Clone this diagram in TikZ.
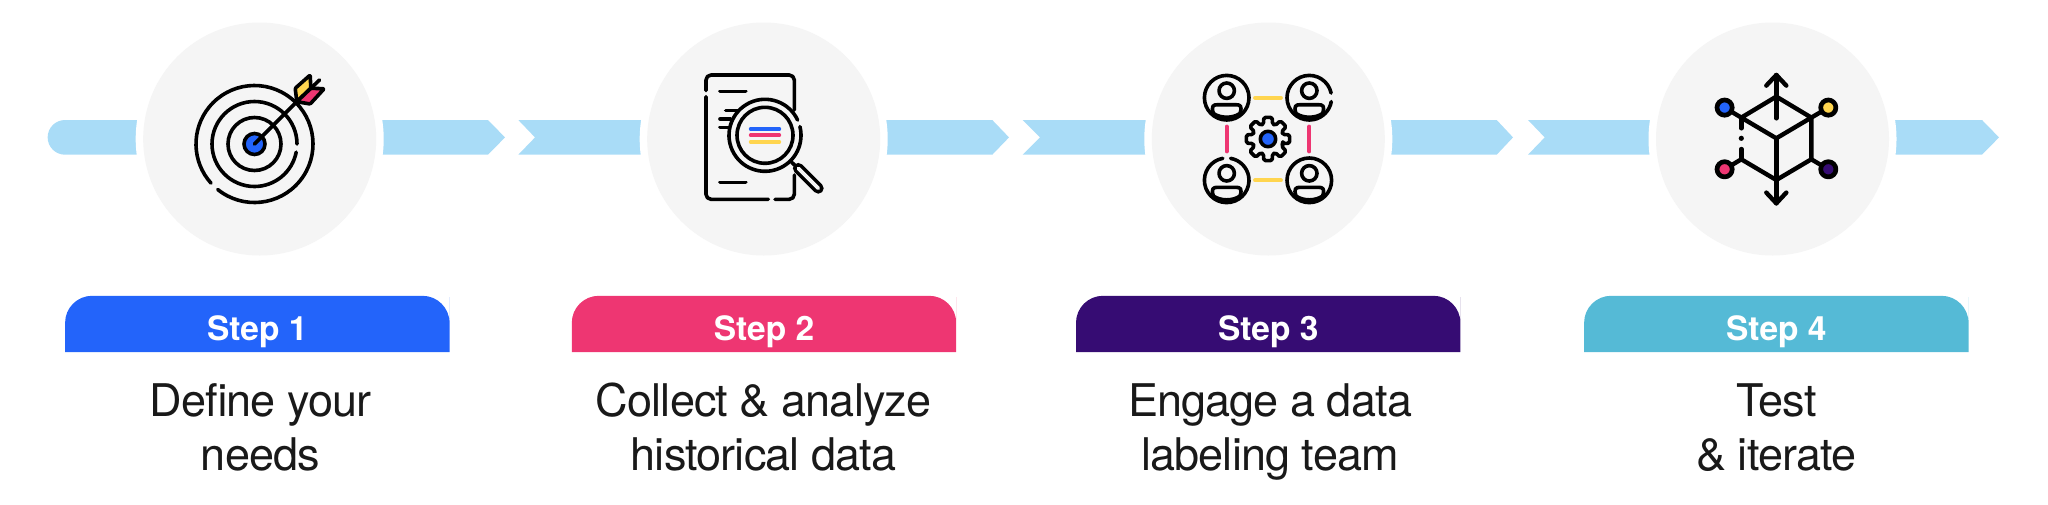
\documentclass[tikz,border=0pt]{standalone}
\usepackage{xcolor}
\usepackage{fontspec}
\usetikzlibrary{calc}
\setmainfont{TeX Gyre Heros}
\newfontfamily\thinfont[LetterSpace=-1.9]{TeX Gyre Heros}
\definecolor{flowblue}{HTML}{A9DCF7}
\definecolor{discgray}{HTML}{F5F5F5}
\definecolor{stepblue}{HTML}{2364FA}
\definecolor{steppink}{HTML}{EE3672}
\definecolor{steppurple}{HTML}{360C73}
\definecolor{stepteal}{HTML}{55BAD6}
\definecolor{accentyellow}{HTML}{FFD54F}

\begin{document}
\begin{tikzpicture}[
  x=1pt, y=1pt,
  flow/.style={fill=flowblue},
  halo/.style={circle, fill=white, minimum size=248pt, inner sep=0pt},
  disc/.style={circle, fill=discgray, minimum size=233pt, inner sep=0pt},
  tabbox/.style={minimum width=384pt, minimum height=56pt, inner sep=0pt},
  tabfill/.style={fill=#1, rounded corners=27pt},
  tablabel/.style={font=\fontsize{33.5}{36}\selectfont\bfseries, text=white, yshift=-7.5pt},
  caption/.style={font=\fontsize{45}{54}\selectfont\thinfont, align=center, anchor=north, inner sep=0pt, text=black!90},
  ink/.style={draw=black, line width=3.6pt, line cap=round, line join=round},
  heavyink/.style={draw=black, line width=4.4pt, line cap=round, line join=round},
  tint/.style={draw=#1, line width=3.8pt, line cap=round}
]
\useasboundingbox (0,0) rectangle (2048,-504);

% Flow arrows, each runs behind one disc
\fill[flow] (65,-120) -- (488,-120) -- (505,-137.4) -- (488,-154.7) -- (65,-154.7) arc[start angle=270, end angle=90, radius=17.35] -- cycle;
\fill[flow] (518.3,-120) -- (992.3,-120) -- (1009,-137.4) -- (992.3,-154.7) -- (518.3,-154.7) -- (535,-137.4) -- cycle;
\fill[flow] (1022.7,-120) -- (1496.7,-120) -- (1513,-137.4) -- (1496.7,-154.7) -- (1022.7,-154.7) -- (1040,-137.4) -- cycle;
\fill[flow] (1528,-120) -- (1982,-120) -- (1999,-137.4) -- (1982,-154.7) -- (1528,-154.7) -- (1544.7,-137.4) -- cycle;

% Discs
\node[halo] at (259.7,-139) {};
\node[disc] (disc1) at (259.7,-139) {};
\node[halo] at (763.7,-139) {};
\node[disc] (disc2) at (763.7,-139) {};
\node[halo] at (1268.3,-139) {};
\node[disc] (disc3) at (1268.3,-139) {};
\node[halo] at (1772.5,-139) {};
\node[disc] (disc4) at (1772.5,-139) {};

% Target icon
\begin{scope}[shift={(254.5,-144)}]
  \draw[ink] (231:58.5) arc[start angle=231, end angle=582, radius=58.5];
  \draw[ink] (0:42.5) arc[start angle=0, end angle=349, radius=42.5];
  \draw[ink] (0,0) circle[radius=26.5];
  \draw[ink, fill=stepblue] (0,0) circle[radius=10.5];
  \draw[ink] (0,0) -- (42.3,42.3);
  \draw[ink] (56.3,55.7) -- (65,64);
  \draw[ink, fill=accentyellow, rounded corners=1pt] (42.3,42.3) -- (40.7,55.7) -- (55.7,69) -- (56.3,55.7) -- cycle;
  \draw[ink, fill=steppink, rounded corners=1pt] (42.3,42.3) -- (55.7,40) -- (69.7,55.3) -- (56.3,55.7) -- cycle;
\end{scope}

% Document and magnifier icon
\begin{scope}[shift={(765,-135.3)}]
  \draw[ink, rounded corners=5pt] (-59,44.7) |- (29.3,60.3) -- (29.3,25.3);
  \draw[ink, rounded corners=5pt] (-59,38.7) |- (3.3,-64);
  \draw[ink, rounded corners=5pt] (10,-64) -| (29.3,-39.7);
  \draw[ink] (-45,44) -- (-19.3,44);
  \draw[ink] (-45,-47) -- (-19.3,-47);
  \draw[ink] (-39.3,24.7) -- (-27,24.7);
  \draw[ink] (-45,16.3) -- (-34.7,16.3);
  \draw[ink] (-45,8) -- (-36,8);
  \draw[ink] (25:36) arc[start angle=25, end angle=374, radius=36];
  \draw[ink] (0,0) circle[radius=28];
  \draw[ink] (26.7,-27) -- (33,-33);
  \draw[line width=10.8pt, line cap=round] (33.3,-33) -- (53.3,-53);
  \draw[draw=discgray, line width=3.6pt, line cap=round] (33.3,-33) -- (53.3,-53);
  \draw[tint=stepblue] (-14.3,6.5) -- (14.3,6.5);
  \draw[tint=steppink] (-14.3,0) -- (14.3,0);
  \draw[tint=accentyellow] (-14.3,-6.5) -- (14.3,-6.5);
\end{scope}

% Team icon
\begin{scope}[shift={(1268,-139)}]
  \draw[tint=accentyellow] (-13,41.3) -- (13,41.3);
  \draw[tint=accentyellow] (-13,-41.3) -- (13,-41.3);
  \draw[tint=steppink] (-41.3,12.5) -- (-41.3,-12.5);
  \draw[tint=steppink] (41.3,12.5) -- (41.3,-12.5);
  % upper left person
  \draw[ink] (-41.3,41.3) circle[radius=22.3];
  \draw[ink] (-41.3,48.3) circle[radius=7.7];
  \draw[ink] (-54.6,25.6) .. controls (-57,33) and (-55,34.3) .. (-50.3,34.3) -- (-32.3,34.3) .. controls (-27.6,34.3) and (-25.6,33) .. (-28,25.6) .. controls (-35,20.5) and (-47.6,20.5) .. (-54.6,25.6);
  % upper right person
  \draw[ink] ($(41.3,41.3)+(12:22.3)$) arc[start angle=12, end angle=350, radius=22.3];
  \draw[ink] (41.3,48.3) circle[radius=7.7];
  \draw[ink] (28,25.6) .. controls (25.6,33) and (27.6,34.3) .. (32.3,34.3) -- (50.3,34.3) .. controls (55,34.3) and (57,33) .. (54.6,25.6) .. controls (47.6,20.5) and (35,20.5) .. (28,25.6);
  % lower left person
  \draw[ink] ($(-41.3,-41.3)+(100:22.3)$) arc[start angle=100, end angle=440, radius=22.3];
  \draw[ink] (-41.3,-34.3) circle[radius=7.7];
  \draw[ink] (-54.6,-57) .. controls (-57,-49.6) and (-55,-48.3) .. (-50.3,-48.3) -- (-32.3,-48.3) .. controls (-27.6,-48.3) and (-25.6,-49.6) .. (-28,-57) .. controls (-35,-62.1) and (-47.6,-62.1) .. (-54.6,-57);
  % lower right person
  \draw[ink] (41.3,-41.3) circle[radius=22.3];
  \draw[ink] (41.3,-34.3) circle[radius=7.7];
  \draw[ink] (28,-57) .. controls (25.6,-49.6) and (27.6,-48.3) .. (32.3,-48.3) -- (50.3,-48.3) .. controls (55,-48.3) and (57,-49.6) .. (54.6,-57) .. controls (47.6,-62.1) and (35,-62.1) .. (28,-57);
  % gear
  \draw[ink, rounded corners=1.6pt] (-17:15.5) \foreach \a in {0,45,...,315} { -- (\a-17:15.5) -- (\a-11:22) -- (\a+11:22) -- (\a+17:15.5) } -- cycle;
  \draw[ink, fill=stepblue] (0,0) circle[radius=7.7];
\end{scope}

% Cube icon
\begin{scope}[shift={(1776.3,-138.3)}]
  \draw[heavyink] (-35,20.7) -- (0,41.7) -- (35,20.7) -- (0,0) -- cycle;
  \draw[heavyink] (35,20.7) -- (35,-21) -- (0,-41.7) -- (-35,-21);
  \draw[heavyink] (0,0) -- (0,-65);
  \draw[heavyink] (0,20) -- (0,63.3);
  \draw[heavyink] (-10,52.7) -- (0,63.3) -- (10,52.7);
  \draw[heavyink] (-10,-54.3) -- (0,-65) -- (10,-54.3);
  \draw[heavyink] (-35,20.7) -- (-35,10);
  \draw[heavyink] (-35,-10.7) -- (-35,-21);
  \fill (-35,0) circle[radius=2.6];
  \draw[heavyink] (-35,20.7) -- (-51.7,30.7);
  \draw[heavyink] (35,20.7) -- (52,30.7);
  \draw[heavyink] (-35,-21) -- (-51.7,-31);
  \draw[heavyink] (35,-21) -- (52,-31);
  \draw[heavyink, line width=4.7pt, fill=stepblue] (-51.7,30.7) circle[radius=7.6];
  \draw[heavyink, line width=4.7pt, fill=accentyellow] (52,30.7) circle[radius=7.6];
  \draw[heavyink, line width=4.7pt, fill=steppink] (-51.7,-31) circle[radius=7.6];
  \draw[heavyink, line width=4.7pt, fill=steppurple] (52,-31) circle[radius=7.6];
\end{scope}

% Step 1
\node[tabbox] (tab1) at (257.3,-324) {};
\fill[tabfill=stepblue] (tab1.south west) |- (tab1.north) -| (tab1.east) [sharp corners] -- (tab1.south east) -- cycle;
\node[tablabel] at (tab1) {Step 1};
\node[caption] (text1) at (260.5,-383) {Define your\\needs};

% Step 2
\node[tabbox] (tab2) at (764,-324) {};
\fill[tabfill=steppink] (tab2.south west) |- (tab2.north) -| (tab2.east) [sharp corners] -- (tab2.south east) -- cycle;
\node[tablabel] at (tab2) {Step 2};
\node[caption] (text2) at (763.6,-383) {Collect \& analyze\\historical data};

% Step 3
\node[tabbox] (tab3) at (1268.2,-324) {};
\fill[tabfill=steppurple] (tab3.south west) |- (tab3.north) -| (tab3.east) [sharp corners] -- (tab3.south east) -- cycle;
\node[tablabel] at (tab3) {Step 3};
\node[caption] (text3) at (1270,-383) {Engage a data\\labeling team};

% Step 4
\node[tabbox] (tab4) at (1776.3,-324) {};
\fill[tabfill=stepteal] (tab4.south west) |- (tab4.north) -| (tab4.east) [sharp corners] -- (tab4.south east) -- cycle;
\node[tablabel] at (tab4) {Step 4};
\node[caption] (text4) at (1776.3,-383) {Test\\\& iterate};

\end{tikzpicture}
\end{document}
